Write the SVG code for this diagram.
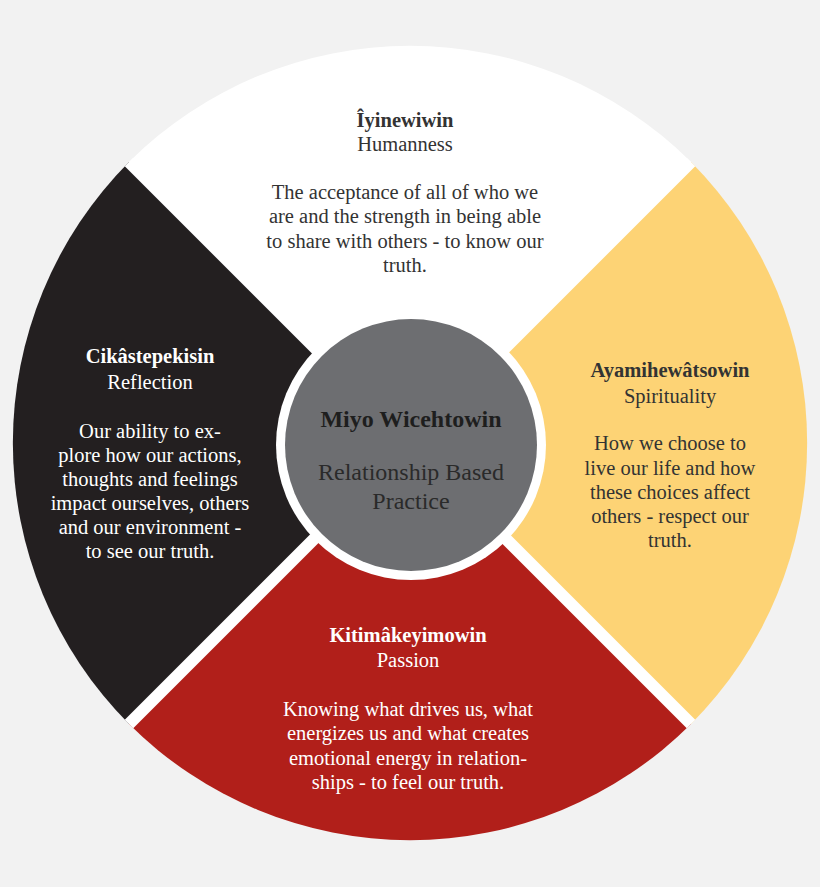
<svg xmlns="http://www.w3.org/2000/svg" width="820" height="887" viewBox="0 0 820 887">
<style>
text{font-family:"Liberation Serif","DejaVu Serif",serif;text-anchor:middle;font-size:20.5px}
.b{font-weight:bold}
.d{fill:#333}
.w{fill:#fff}
.c{font-size:24px}
</style>
<rect width="820" height="887" fill="#f2f2f2"/>
<g id="top"><path d="M410,443 L129,162 A398,398 0 0 1 691,162 Z" fill="#fff"/></g>
<g id="right"><path d="M410,443 L691,162 A398,398 0 0 1 691,724 Z" fill="#fdd375"/></g>
<g id="bottom"><path d="M410,443 L691,724 A398,398 0 0 1 129,724 Z" fill="#b11f1a"/></g>
<g id="left"><path d="M410,443 L129,724 A398,398 0 0 1 129,162 Z" fill="#231f20"/></g>
<g id="connectors" stroke="#fff" stroke-width="12">
<line x1="129" y1="162" x2="691" y2="724"/><line x1="691" y1="162" x2="129" y2="724"/>
</g>
<g id="center"><circle cx="411" cy="445" r="135" fill="#fff"/><circle cx="411" cy="445" r="126" fill="#6d6e71"/>
<text class="b c" x="411" y="427" fill="#1e1e1e">Miyo Wicehtowin</text>
<text class="c" x="411" y="480" fill="#2a2a2a">Relationship Based</text>
<text class="c" x="411" y="509" fill="#2a2a2a">Practice</text></g>
<g id="t" class="d">
<text class="b" x="405" y="127">Îyinewiwin</text><text x="405" y="151">Humanness</text>
<text x="405" y="199">The acceptance of all of who we</text>
<text x="405" y="223">are and the strength in being able</text>
<text x="405" y="248">to share with others - to know our</text>
<text x="405" y="272">truth.</text></g>
<g id="l" class="w">
<text class="b" x="150" y="363">Cikâstepekisin</text><text x="150" y="389">Reflection</text>
<text x="150" y="438">Our ability to ex-</text>
<text x="150" y="462">plore how our actions,</text>
<text x="150" y="486">thoughts and feelings</text>
<text x="150" y="510">impact ourselves, others</text>
<text x="150" y="534">and our environment -</text>
<text x="150" y="558">to see our truth.</text></g>
<g id="r" class="d">
<text class="b" x="670" y="377">Ayamihewâtsowin</text><text x="670" y="403">Spirituality</text>
<text x="670" y="450">How we choose to</text>
<text x="670" y="475">live our life and how</text>
<text x="670" y="499">these choices affect</text>
<text x="670" y="523">others - respect our</text>
<text x="670" y="547">truth.</text></g>
<g id="b" class="w">
<text class="b" x="408" y="642">Kitimâkeyimowin</text><text x="408" y="667">Passion</text>
<text x="408" y="716">Knowing what drives us, what</text>
<text x="408" y="740">energizes us and what creates</text>
<text x="408" y="765">emotional energy in relation-</text>
<text x="408" y="789">ships - to feel our truth.</text></g>
</svg>
